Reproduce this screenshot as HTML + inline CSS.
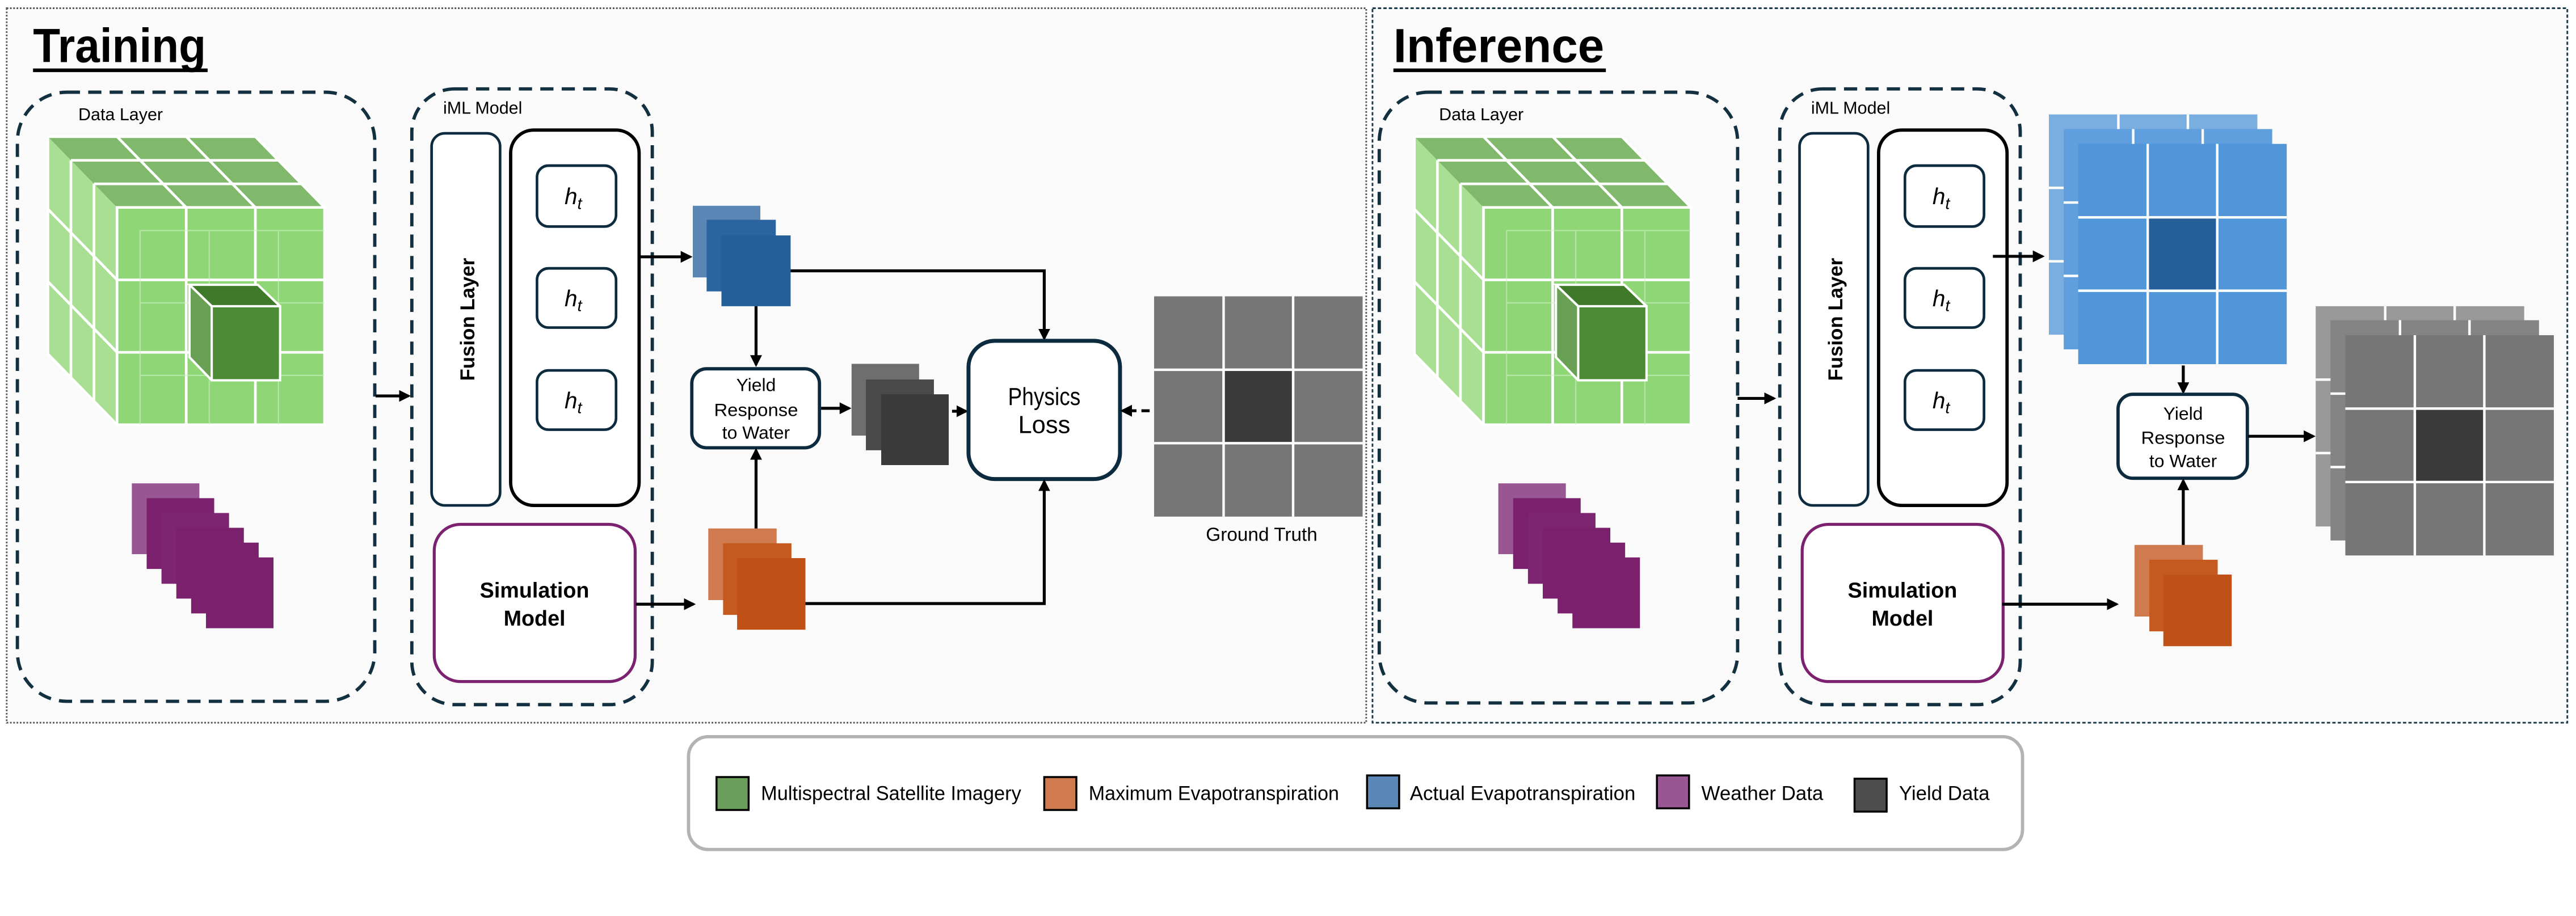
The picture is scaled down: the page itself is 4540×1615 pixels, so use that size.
<!DOCTYPE html>
<html><head><meta charset="utf-8"><style>
html,body{margin:0;padding:0;background:#fff;}
svg{display:block;}
text{font-family:"Liberation Sans",sans-serif;}
</style></head><body>
<svg width="4540" height="1615" viewBox="0 0 1564 556.4" xmlns="http://www.w3.org/2000/svg">
<defs>
<marker id="ah" markerWidth="4" markerHeight="4" refX="3.2" refY="2" orient="auto" markerUnits="strokeWidth">
<path d="M0,0 L4,2 L0,4 z" fill="#000"/></marker>
<g id="g9">
<rect x="0" y="0" width="126.6" height="133.8"/>
<path d="M42.2,0V133.8M84.4,0V133.8M0,44.6H126.6M0,89.2H126.6" stroke="#fff" stroke-width="1.5" fill="none"/>
</g>
<g id="cube">
<polygon points="71,126 71,258 29,215 29,83" fill="#a9df93"/>
<polygon points="71,126 197,126 155,83 29,83" fill="#80b86c"/>
<rect x="71" y="126" width="126" height="132" fill="#8fd677"/>
<g stroke="#fff" stroke-width="1.6" fill="none">
<path d="M57,111.7H183M43,97.4H169M113,126L71,83M155,126L113,83M197,126L155,83M29,83H155"/>
<path d="M71,170L29,127M71,214L29,171M57,111.7V243.7M43,97.4V229.4M71,258L29,215M29,83V215"/>
<path d="M71,126H197V258H71zM113,126V258M155,126V258M71,170H197M71,214H197"/>
</g>
<g stroke="#cdeec0" stroke-width="0.8" opacity="0.6" fill="none">
<path d="M85,140V258M127,140V258M169,140V258M85,140H197M85,184H197M85,228H197"/>
</g>
<polygon points="128.5,186 128.5,231 115,217 115,173" fill="#6aa055"/>
<polygon points="128.5,186 170,186 156.5,173 115,173" fill="#3f7a2b"/>
<rect x="128.5" y="186" width="41.5" height="45" fill="#4c8c36"/>
<path d="M128.5,186H170V231H128.5zM128.5,186L115,173H156.5L170,186M115,173V217L128.5,231" stroke="#fff" stroke-width="1.4" fill="none"/>
<g fill="#7a206c">
<rect x="80" y="293.6" width="41" height="43" fill="#985792"/>
<rect x="89" y="302.6" width="41" height="43"/>
<rect x="98" y="311.6" width="41" height="43" fill="#7d2570"/>
<rect x="107" y="320.6" width="41" height="43"/>
<rect x="116" y="329.6" width="41" height="43"/>
<rect x="125" y="338.6" width="41" height="43"/>
</g>
</g>
<g id="iml">
<rect x="250" y="54" width="146" height="374" rx="26" fill="none" stroke="#12303f" stroke-width="2" stroke-dasharray="8 5"/>
<text x="269" y="69" font-size="10.5">iML Model</text>
<rect x="262" y="81" width="41.6" height="226" rx="8" fill="#fff" stroke="#0d2b3e" stroke-width="1.6"/>
<text transform="translate(288,194) rotate(-90)" text-anchor="middle" font-size="12" font-weight="bold">Fusion Layer</text>
<rect x="310" y="79" width="78" height="228" rx="14" fill="#fff" stroke="#000" stroke-width="2"/>
<g fill="#fff" stroke="#0d2b3e" stroke-width="1.6">
<rect x="326" y="100.6" width="48" height="37" rx="7"/>
<rect x="326" y="163" width="48" height="36" rx="7"/>
<rect x="326" y="225" width="48" height="36" rx="7"/>
</g>
<g font-family="Liberation Serif,serif" font-style="italic" font-size="14" text-anchor="middle">
<text x="348" y="124">h<tspan font-size="10" dy="3">t</tspan></text>
<text x="348" y="186">h<tspan font-size="10" dy="3">t</tspan></text>
<text x="348" y="248">h<tspan font-size="10" dy="3">t</tspan></text>
</g>
<rect x="263.6" y="318.5" width="122" height="95.5" rx="16" fill="#fff" stroke="#7b2170" stroke-width="1.8"/>
<text x="324.5" y="363" text-anchor="middle" font-size="13" font-weight="bold">Simulation</text>
<text x="324.5" y="380" text-anchor="middle" font-size="13" font-weight="bold">Model</text>
</g>
<g id="orange">
<rect x="0" y="0" width="41.5" height="43.5" fill="#cf7a4f"/>
<rect x="9" y="9" width="41.5" height="43.5" fill="#c45a1f"/>
<rect x="17.5" y="18" width="41.5" height="43.5" fill="#bf5018"/>
</g>
</defs>

<!-- Panels -->
<rect x="4" y="5" width="825.5" height="434" fill="#fafafa" stroke="#555" stroke-width="1" stroke-dasharray="1 1"/>
<rect x="833.3" y="5" width="725.5" height="434" fill="#fafafa" stroke="#1b3a4b" stroke-width="1" stroke-dasharray="2 1.3"/>

<text x="20" y="37.7" font-size="29" font-weight="bold" textLength="105" lengthAdjust="spacingAndGlyphs">Training</text>
<rect x="20" y="41.6" width="106" height="2.2" fill="#000"/>
<text x="846" y="37.7" font-size="29" font-weight="bold" textLength="128" lengthAdjust="spacingAndGlyphs">Inference</text>
<rect x="846" y="41.6" width="129" height="2.2" fill="#000"/>

<!-- Training data layer -->
<rect x="10.5" y="56" width="217" height="370" rx="30" fill="none" stroke="#12303f" stroke-width="2" stroke-dasharray="8 5"/>
<text x="47.5" y="73" font-size="10.5">Data Layer</text>
<use href="#cube"/>
<line x1="228" y1="240.5" x2="248" y2="240.5" stroke="#000" stroke-width="1.8" marker-end="url(#ah)"/>
<use href="#iml"/>

<!-- Training right side -->
<rect x="420.6" y="125" width="41" height="43.5" fill="#5a87b5"/>
<rect x="429" y="133.5" width="42" height="43.5" fill="#2b64a0"/>
<rect x="438" y="143" width="42" height="43" fill="#245f9a"/>
<line x1="388" y1="156" x2="419" y2="156" stroke="#000" stroke-width="1.8" marker-end="url(#ah)"/>
<polyline points="480,164.5 634,164.5 634,205.5" fill="none" stroke="#000" stroke-width="1.8" marker-end="url(#ah)"/>
<line x1="459" y1="186" x2="459" y2="221.5" stroke="#000" stroke-width="1.8" marker-end="url(#ah)"/>

<rect x="420" y="224" width="77.5" height="48" rx="9" fill="#fff" stroke="#0d2b3e" stroke-width="2"/>
<g font-size="11" text-anchor="middle">
<text x="459" y="237.6">Yield</text>
<text x="459" y="252.7" textLength="51" lengthAdjust="spacingAndGlyphs">Response</text>
<text x="459" y="266.5">to Water</text>
</g>
<line x1="498.5" y1="248" x2="515.5" y2="248" stroke="#000" stroke-width="1.8" marker-end="url(#ah)"/>
<rect x="517" y="221" width="41" height="43.6" fill="#6e6e6e"/>
<rect x="525.7" y="230.5" width="41.3" height="43" fill="#4a4a4a"/>
<rect x="535" y="239.5" width="41" height="43" fill="#3a3a3a"/>
<line x1="578" y1="249.8" x2="586.5" y2="249.8" stroke="#000" stroke-width="1.8" marker-end="url(#ah)"/>

<rect x="588" y="207" width="92" height="84" rx="16" fill="#fff" stroke="#0d2b3e" stroke-width="2.4"/>
<text x="634" y="246" text-anchor="middle" font-size="15" textLength="44" lengthAdjust="spacingAndGlyphs">Physics</text>
<text x="634" y="263" text-anchor="middle" font-size="15">Loss</text>
<line x1="698" y1="249.5" x2="681.5" y2="249.5" stroke="#000" stroke-width="1.8" stroke-dasharray="5 3" marker-end="url(#ah)"/>

<use href="#g9" x="700.7" y="180" fill="#767676"/>
<rect x="742.9" y="224.6" width="42.2" height="44.6" fill="#3a3a3a" stroke="#fff" stroke-width="1.5"/>
<text x="766" y="328.5" text-anchor="middle" font-size="11.5">Ground Truth</text>

<use href="#orange" x="430" y="321"/>
<line x1="386" y1="367" x2="421" y2="367" stroke="#000" stroke-width="1.8" marker-end="url(#ah)"/>
<line x1="459" y1="321" x2="459" y2="273.5" stroke="#000" stroke-width="1.8" marker-end="url(#ah)"/>
<polyline points="489,366.6 634,366.6 634,292.5" fill="none" stroke="#000" stroke-width="1.8" marker-end="url(#ah)"/>

<!-- Inference data layer -->
<rect x="837.4" y="56" width="217.6" height="371" rx="30" fill="none" stroke="#12303f" stroke-width="2" stroke-dasharray="8 5"/>
<text x="873.7" y="73" font-size="10.5">Data Layer</text>
<use href="#cube" x="829.7"/>
<line x1="1055" y1="242" x2="1077" y2="242" stroke="#000" stroke-width="1.8" marker-end="url(#ah)"/>
<use href="#iml" x="830.6"/>

<!-- Inference right -->
<use href="#g9" x="1244" y="69.5" fill="#7aaee0"/>
<use href="#g9" x="1253" y="78.4" fill="#5f9fdd"/>
<use href="#g9" x="1261.8" y="87.4" fill="#5096d8"/>
<rect x="1304" y="132" width="42.2" height="44.6" fill="#245f9a" stroke="#fff" stroke-width="1.5"/>
<line x1="1210" y1="155.7" x2="1240" y2="155.7" stroke="#000" stroke-width="1.8" marker-end="url(#ah)"/>
<line x1="1325.6" y1="222" x2="1325.6" y2="238" stroke="#000" stroke-width="1.8" marker-end="url(#ah)"/>

<rect x="1286" y="239.5" width="78.5" height="51" rx="9" fill="#fff" stroke="#0d2b3e" stroke-width="2"/>
<g font-size="11" text-anchor="middle">
<text x="1325.5" y="255">Yield</text>
<text x="1325.5" y="269.6" textLength="51" lengthAdjust="spacingAndGlyphs">Response</text>
<text x="1325.5" y="283.7">to Water</text>
</g>
<line x1="1365" y1="265" x2="1404.5" y2="265" stroke="#000" stroke-width="1.8" marker-end="url(#ah)"/>
<use href="#g9" x="1406" y="186" fill="#999999"/>
<use href="#g9" x="1415" y="194.5" fill="#848484"/>
<use href="#g9" x="1424" y="203.6" fill="#767676"/>
<rect x="1466.2" y="248.2" width="42.2" height="44.6" fill="#3a3a3a" stroke="#fff" stroke-width="1.5"/>

<use href="#orange" x="1296" y="331"/>
<line x1="1215.7" y1="367" x2="1285" y2="367" stroke="#000" stroke-width="1.8" marker-end="url(#ah)"/>
<line x1="1325.6" y1="331" x2="1325.6" y2="292" stroke="#000" stroke-width="1.8" marker-end="url(#ah)"/>

<!-- Legend -->
<rect x="418" y="447.5" width="810" height="68.5" rx="12" fill="#fff" stroke="#b3b3b3" stroke-width="2"/>
<g stroke="#000" stroke-width="1.2">
<rect x="435" y="472" width="19.5" height="20" fill="#6a9e5a"/>
<rect x="634" y="472" width="19.5" height="20" fill="#cf7a4f"/>
<rect x="830" y="471" width="19.5" height="20" fill="#5a87b5"/>
<rect x="1006" y="471" width="19.5" height="20" fill="#985792"/>
<rect x="1126" y="473" width="19.5" height="20" fill="#4d4d4d"/>
</g>
<g font-size="12">
<text x="462" y="486" textLength="158" lengthAdjust="spacingAndGlyphs">Multispectral Satellite Imagery</text>
<text x="661" y="486" textLength="152" lengthAdjust="spacingAndGlyphs">Maximum Evapotranspiration</text>
<text x="856" y="486" textLength="137" lengthAdjust="spacingAndGlyphs">Actual Evapotranspiration</text>
<text x="1033" y="486" textLength="74" lengthAdjust="spacingAndGlyphs">Weather Data</text>
<text x="1153" y="486" textLength="55" lengthAdjust="spacingAndGlyphs">Yield Data</text>
</g>
</svg>
</body></html>
